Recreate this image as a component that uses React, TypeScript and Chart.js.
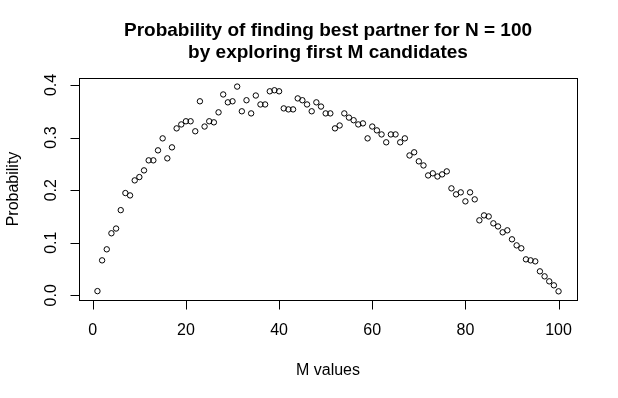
import React, { useEffect, useRef } from "react";
import { Chart, registerables } from "chart.js";

Chart.register(...registerables);

const mValues = [
  1, 2, 3, 4, 5, 6, 7, 8, 9, 10, 11, 12, 13, 14, 15, 16, 17, 18, 19, 20,
  21, 22, 23, 24, 25, 26, 27, 28, 29, 30, 31, 32, 33, 34, 35, 36, 37, 38, 39, 40,
  41, 42, 43, 44, 45, 46, 47, 48, 49, 50, 51, 52, 53, 54, 55, 56, 57, 58, 59, 60,
  61, 62, 63, 64, 65, 66, 67, 68, 69, 70, 71, 72, 73, 74, 75, 76, 77, 78, 79, 80,
  81, 82, 83, 84, 85, 86, 87, 88, 89, 90, 91, 92, 93, 94, 95, 96, 97, 98, 99, 100,
];

const probability = [
  0.008, 0.0665, 0.0875, 0.118, 0.127, 0.162, 0.1945, 0.19, 0.2186, 0.2249,
  0.2376, 0.2567, 0.2567, 0.2757, 0.2985, 0.2605, 0.2814, 0.3175, 0.325, 0.331,
  0.331, 0.312, 0.369, 0.321, 0.331, 0.329, 0.348, 0.382, 0.367, 0.369,
  0.397, 0.35, 0.371, 0.346, 0.38, 0.363, 0.363, 0.388, 0.39, 0.388,
  0.3555, 0.3536, 0.3536, 0.3745, 0.371, 0.363, 0.35, 0.367, 0.359, 0.346,
  0.346, 0.3175, 0.323, 0.346, 0.338, 0.333, 0.325, 0.327, 0.2985, 0.321,
  0.3137, 0.306, 0.291, 0.306, 0.306, 0.291, 0.2985, 0.266, 0.272, 0.2548,
  0.247, 0.228, 0.232, 0.226, 0.23, 0.2357, 0.2034, 0.192, 0.1958, 0.1787,
  0.1958, 0.1825, 0.1426, 0.152, 0.15, 0.1369, 0.131, 0.1198, 0.1236, 0.1065,
  0.095, 0.0894, 0.0684, 0.0665, 0.0646, 0.0456, 0.0361, 0.0266, 0.019, 0.0076,
];

const xTicks = [0, 20, 40, 60, 80, 100];
const xTickLabels = ["0", "20", "40", "60", "80", "100"];
const yTicks = [0, 0.1, 0.2, 0.3, 0.4];
const yTickLabels = ["0.0", "0.1", "0.2", "0.3", "0.4"];

const titleLines = [
  "Probability of finding best partner for N = 100",
  "by exploring first M candidates",
];
const xTitle = "M values";
const yTitle = "Probability";

const FONT = '"Liberation Sans", Arial, sans-serif';

const rAxesPlugin = {
  id: "rAxes",
  afterDraw(chart: any) {
    const ctx = chart.ctx as CanvasRenderingContext2D;
    const { left, right, top, bottom } = chart.chartArea;
    const xs = chart.scales.x;
    const ys = chart.scales.y;
    ctx.save();
    ctx.strokeStyle = "#000";
    ctx.lineWidth = 1;
    ctx.strokeRect(
      Math.round(left) + 0.5,
      Math.round(top) + 0.5,
      Math.round(right - left),
      Math.round(bottom - top)
    );
    ctx.beginPath();
    xTicks.forEach((v) => {
      const px = Math.round(xs.getPixelForValue(v)) + 0.5;
      ctx.moveTo(px, Math.round(bottom) + 0.5);
      ctx.lineTo(px, Math.round(bottom) + 9.5);
    });
    yTicks.forEach((v) => {
      const py = Math.round(ys.getPixelForValue(v)) + 0.5;
      ctx.moveTo(Math.round(left) + 0.5, py);
      ctx.lineTo(Math.round(left) - 8.5, py);
    });
    ctx.stroke();

    ctx.fillStyle = "#000";
    ctx.font = "16px " + FONT;
    ctx.textAlign = "center";
    ctx.textBaseline = "alphabetic";
    xTicks.forEach((v, i) => {
      ctx.fillText(xTickLabels[i], xs.getPixelForValue(v), 335);
    });
    yTicks.forEach((v, i) => {
      ctx.save();
      ctx.translate(56, ys.getPixelForValue(v));
      ctx.rotate(-Math.PI / 2);
      ctx.fillText(yTickLabels[i], 0, 0);
      ctx.restore();
    });
    ctx.fillText(xTitle, (left + right) / 2, 375);
    ctx.save();
    ctx.translate(18, (top + bottom) / 2);
    ctx.rotate(-Math.PI / 2);
    ctx.fillText(yTitle, 0, 0);
    ctx.restore();

    ctx.font = "bold 19px " + FONT;
    ctx.fillText(titleLines[0], (left + right) / 2, 36);
    ctx.fillText(titleLines[1], (left + right) / 2, 57.5);
    ctx.restore();
  },
};

export default function App() {
  const canvasRef = useRef<HTMLCanvasElement | null>(null);

  useEffect(() => {
    const canvas = canvasRef.current;
    if (!canvas) return;
    const chart = new Chart(canvas, {
      type: "scatter",
      data: {
        datasets: [
          {
            data: mValues.map((m, i) => ({ x: m, y: probability[i] })),
            pointStyle: "circle",
            pointRadius: 2.7,
            pointHoverRadius: 2.7,
            borderColor: "#000",
            backgroundColor: "rgba(0,0,0,0)",
            borderWidth: 1,
            showLine: false,
          },
        ],
      },
      options: {
        animation: false,
        responsive: false,
        devicePixelRatio: 1,
        layout: { padding: { left: 79, right: 41, top: 78, bottom: 98 } },
        plugins: {
          legend: { display: false },
          tooltip: { enabled: false },
          title: { display: false },
        },
        events: [],
        scales: {
          x: { type: "linear", display: false, min: -2.96, max: 103.96 },
          y: { type: "linear", display: false, min: -0.0089, max: 0.4133 },
        },
      },
      plugins: [rAxesPlugin],
    });
    return () => chart.destroy();
  }, []);

  return (
    <div
      style={{
        position: "fixed",
        left: 0,
        top: 0,
        width: 618,
        height: 398,
        background: "#fff",
      }}
    >
      <canvas ref={canvasRef} width={618} height={398} style={{ display: "block" }} />
    </div>
  );
}
